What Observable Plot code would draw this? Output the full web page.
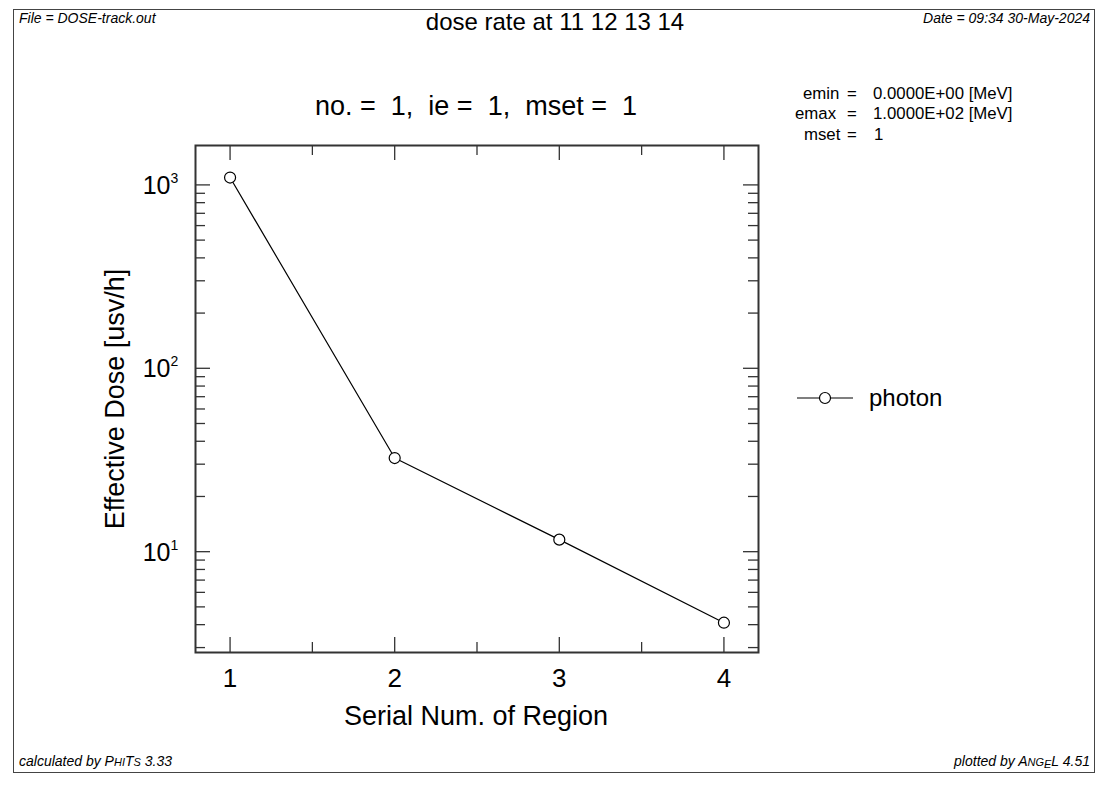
<!DOCTYPE html>
<html><head><meta charset="utf-8">
<script src="https://cdn.jsdelivr.net/npm/d3@7"></script>
<script src="https://cdn.jsdelivr.net/npm/@observablehq/plot@0.6"></script>
<style>
body{margin:0;background:#fff;}
#wrap{position:relative;width:1109px;height:787px;overflow:hidden;font-family:"Liberation Sans",Arial,Helvetica,sans-serif;color:#000;}
#wrap > svg{position:absolute;left:0;top:0;}
.t{position:absolute;white-space:pre;line-height:1;}
#box{position:absolute;left:13px;top:9px;width:1080px;height:762px;border:1px solid #444;}
</style></head><body><div id="wrap"><div id="box"></div></div>
<script>
// ---- data ----
const regions = [1, 2, 3, 4];
const photonDose = [1097, 32.4, 11.63, 4.10];
const xMajorTicks = [1, 2, 3, 4];
const xMinorTicks = [1.5, 2.5, 3.5];
const yMajorTicks = [10, 100, 1000];
const yMajorExponents = ["1", "2", "3"];
const yMinorTicks = [3,4,5,6,7,8,9,20,30,40,50,60,70,80,90,200,300,400,500,600,700,800,900];
const xDomain = [0.79, 4.21];
const yDomain = [2.82, 1640];
const seriesName = "photon";

const photon = regions.map((r, i) => ({region: r, dose: photonDose[i]}));

const W = 1109, H = 787, mL = 195, mR = 351, mT = 145, mB = 135;
const fw = W - mL - mR, fh = H - mT - mB;
const axisColor = "#333";

const chart = Plot.plot({
  width: W, height: H,
  marginLeft: mL, marginRight: mR, marginTop: mT, marginBottom: mB,
  style: {fontFamily: '"Liberation Sans", Arial, sans-serif', background: "transparent", color: "#000"},
  x: {domain: xDomain, axis: null},
  y: {type: "log", domain: yDomain, axis: null},
  marks: [
    // inward ticks, bottom & top
    Plot.tickX(xMajorTicks, {x: d => d, insetTop: fh - 15, stroke: axisColor, strokeWidth: 1.3}),
    Plot.tickX(xMinorTicks, {x: d => d, insetTop: fh - 10, stroke: axisColor, strokeWidth: 1.3}),
    Plot.tickX(xMajorTicks, {x: d => d, insetBottom: fh - 15, stroke: axisColor, strokeWidth: 1.3}),
    Plot.tickX(xMinorTicks, {x: d => d, insetBottom: fh - 10, stroke: axisColor, strokeWidth: 1.3}),
    // inward ticks, left & right
    Plot.tickY(yMajorTicks, {y: d => d, insetRight: fw - 15, stroke: axisColor, strokeWidth: 1.3}),
    Plot.tickY(yMinorTicks, {y: d => d, insetRight: fw - 10, stroke: axisColor, strokeWidth: 1.3}),
    Plot.tickY(yMajorTicks, {y: d => d, insetLeft: fw - 15, stroke: axisColor, strokeWidth: 1.3}),
    Plot.tickY(yMinorTicks, {y: d => d, insetLeft: fw - 10, stroke: axisColor, strokeWidth: 1.3}),
    // tick labels
    Plot.text(xMajorTicks, {x: d => d, text: d => String(d), frameAnchor: "bottom", dy: 26, fontSize: 26, lineAnchor: "middle", fill: "#000"}),
    Plot.text(yMajorTicks, {y: d => d, text: () => "10", frameAnchor: "left", textAnchor: "end", dx: -25, dy: 1, fontSize: 25, lineAnchor: "middle", fill: "#000"}),
    Plot.text(yMajorTicks, {y: d => d, text: (d, i) => yMajorExponents[i], frameAnchor: "left", textAnchor: "start", dx: -25, dy: -6.5, fontSize: 14, lineAnchor: "middle", fill: "#000"}),
    // series
    Plot.line(photon, {x: "region", y: "dose", stroke: "#000", strokeWidth: 1.2}),
    Plot.dot(photon, {x: "region", y: "dose", r: 5.5, fill: "#fff", stroke: "#000", strokeWidth: 1.2}),
    Plot.frame({stroke: axisColor, strokeWidth: 2})
  ]
});
const wrap = document.getElementById("wrap");
wrap.appendChild(chart);

function label(html, x, cy, size, anchor, extra) {
  const d = document.createElement("div");
  d.className = "t";
  d.innerHTML = html;
  d.style.fontSize = size + "px";
  d.style.left = x + "px";
  d.style.top = (cy - size / 2) + "px";
  let tr = anchor === "end" ? "translateX(-100%)" : anchor === "middle" ? "translateX(-50%)" : "";
  if (extra && extra.rotate) {
    d.style.top = cy + "px";
    tr = "translate(-50%,-50%) rotate(-90deg)";
  }
  if (extra && extra.italic) d.style.fontStyle = "italic";
  d.style.transform = tr;
  wrap.appendChild(d);
  return d;
}

label("File = DOSE-track.out", 19, 18, 14, "start", {italic: true});
label("Date = 09:34 30-May-2024", 1090, 18, 14, "end", {italic: true});
label("dose rate at 11 12 13 14", 555, 22, 24, "middle");
label("no. =  1,  ie =  1,  mset =  1", 476, 106, 27, "middle");

label("emin", 803, 94, 16.8, "start");
label("=", 847, 94, 16.8, "start");
label("0.0000E+00 [MeV]", 873, 94, 16.8, "start");
label("emax", 795, 114.5, 16.8, "start");
label("=", 847, 114.5, 16.8, "start");
label("1.0000E+02 [MeV]", 873, 114.5, 16.8, "start");
label("mset", 804, 135, 16.8, "start");
label("=", 847, 135, 16.8, "start");
label("1", 874, 135, 16.8, "start");

label("Serial Num. of Region", 476, 716, 27, "middle");
label("Effective Dose [usv/h]", 115, 399, 27, "middle", {rotate: true});

label(seriesName, 869, 398, 24, "start");
const leg = document.createElementNS("http://www.w3.org/2000/svg", "svg");
leg.setAttribute("width", 70); leg.setAttribute("height", 20);
leg.style.position = "absolute"; leg.style.left = "792px"; leg.style.top = "388px";
leg.innerHTML = '<line x1="5" x2="61" y1="10" y2="10" stroke="#000" stroke-width="1.2"/><circle cx="33" cy="10" r="5.5" fill="#fff" stroke="#000" stroke-width="1.2"/>';
wrap.appendChild(leg);

label('calculated by P<span style="font-size:11px">HI</span>T<span style="font-size:11px">S</span> 3.33', 19, 761, 14, "start", {italic: true});
label('plotted by A<span style="font-size:11px">NG</span><span style="font-size:11px;position:relative;top:2px">E</span>L 4.51', 1090, 761, 14, "end", {italic: true});
</script>
</body></html>
